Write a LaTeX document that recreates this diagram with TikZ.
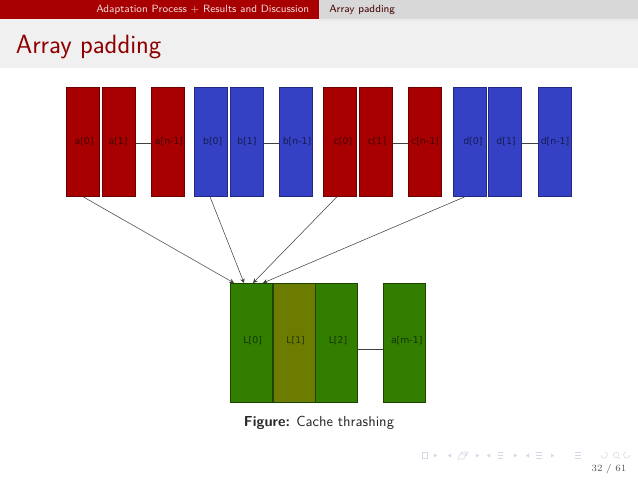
\documentclass[tikz,border=0pt]{standalone}
\usepackage{fontspec}
\newfontfamily\cellfont{DejaVu Sans}
\usetikzlibrary{arrows.meta}
\definecolor{hdred}{HTML}{A80000}
\definecolor{hdgray}{HTML}{D8D8D8}
\definecolor{titlebg}{HTML}{F0F0F0}
\definecolor{redcell}{HTML}{A80000}
\definecolor{bluecell}{HTML}{3541C4}
\definecolor{greencell}{HTML}{327E00}
\definecolor{olivecell}{HTML}{6C7C00}
\definecolor{navgray}{HTML}{D6D6E6}
\newcommand\lbl[3]{\raisebox{#2pt}{\hspace*{#1pt}#3}}
\tikzset{
  x=0.75pt,y=-0.75pt,
  cell/.style={draw=black!70,line width=0.5pt,minimum width=25pt,minimum height=81.6pt,inner sep=0pt,
     font=\cellfont\fontsize{7}{8}\selectfont},
  redbox/.style={cell,draw=black!35!redcell,fill=redcell,text=black!60!redcell},
  bluebox/.style={cell,draw=black!35!bluecell,fill=bluecell,text=black!60!bluecell},
  greenbox/.style={cell,draw=black!45!greencell,minimum width=31.5pt,minimum height=89.5pt,fill=greencell,text=black!60!greencell},
  olivebox/.style={greenbox,fill=olivecell,text=black!60!olivecell},
  link/.style={draw=black!75,line width=0.45pt},
  feed/.style={draw=black!75,line width=0.4pt,-{Stealth[length=3.4pt,width=3.4pt]}},
  nav/.style={draw=navgray,line width=0.4pt},
  navtip/.style={fill=navgray},
}
\begin{document}
\begin{tikzpicture}
\useasboundingbox (0,0) rectangle (638,479);
\fill[white] (0,0) rectangle (638,479);
\fill[titlebg] (0,19) rectangle (638,68);
\fill[hdred] (0,0) rectangle (319,19);
\fill[hdgray] (319,0) rectangle (638,19);
\fill[black!8] (319,19) rectangle (638,21);
\node[font=\sffamily\fontsize{7.9}{10}\selectfont,text=white!85!hdred,anchor=east,inner sep=0pt] (sec) at (309.5,9.5) {Adaptation Process + Results and Discussion};
\node[font=\sffamily\fontsize{7.9}{10}\selectfont,text=black!60!hdred,anchor=west,inner sep=0pt] (sub) at (329,9.5) {Array padding};
\node[font=\sffamily\fontsize{19.8}{22}\selectfont,text=hdred!85!black,anchor=west,inner sep=0pt] (title) at (15.5,47) {Array padding};
% array cells
\node[redbox] (a0) at (83,142) {\lbl{1.5}{0.75}{a[0]}};
\node[redbox] (a1) at (119,142) {\lbl{-1.5}{0.75}{a[1]}};
\node[redbox] (an) at (168,142) {\lbl{1.5}{0.75}{a[n-1]}};
\node[bluebox] (b0) at (211,142) {\lbl{2.5}{2.25}{b[0]}};
\node[bluebox] (b1) at (247,142) {\lbl{0}{2.25}{b[1]}};
\node[bluebox] (bn) at (296,142) {\lbl{1.5}{1.5}{b[n-1]}};
\node[redbox] (c0) at (340,142) {\lbl{4.5}{0.75}{c[0]}};
\node[redbox] (c1) at (376,142) {\lbl{1.5}{0.75}{c[1]}};
\node[redbox] (cn) at (425,142) {\lbl{0}{0.75}{c[n-1]}};
\node[bluebox] (d0) at (469.5,142) {\lbl{5}{0.75}{d[0]}};
\node[bluebox] (d1) at (505,142) {\lbl{1.5}{0.75}{d[1]}};
\node[bluebox] (dn) at (555,142) {\lbl{0}{0.75}{d[n-1]}};
% cache cells
\node[greenbox] (l0) at (251.5,343) {\lbl{1.8}{5.25}{L[0]}};
\node[olivebox] (l1) at (294,343) {\lbl{2.5}{5.25}{L[1]}};
\node[greenbox] (l2) at (336.5,343) {\lbl{2.2}{5.25}{L[2]}};
\node[greenbox] (lm) at (404.5,343) {\lbl{3.3}{4.5}{a[m-1]}};
% links
\draw[link] (a1.east |- 0,143.5) -- (an.west |- 0,143.5);
\draw[link] (b1.east |- 0,143.5) -- (bn.west |- 0,143.5);
\draw[link] (c1.east |- 0,143.5) -- (cn.west |- 0,143.5);
\draw[link] (d1.east |- 0,143.5) -- (dn.west |- 0,143.5);
\draw[link] ([yshift=-4.9pt]l2.east) -- ([yshift=-4.9pt]lm.west);
% feeds
\draw[feed] (a0.south) -- ([xshift=-13.1pt]l0.north);
\draw[feed] ([xshift=-0.75pt]b0.south) -- ([xshift=-5.6pt]l0.north);
\draw[feed] ([xshift=-2.25pt]c0.south) -- ([xshift=1.1pt]l0.north);
\draw[feed] ([xshift=-3.4pt]d0.south) -- ([xshift=8.6pt]l0.north);
\node[font=\sffamily\fontsize{10.9}{12}\selectfont,text=black!85,inner sep=0pt] (cap) at (319,423) {\textbf{Figure:} Cache thrashing};
% navigation symbols
\draw[nav] (422,452.5) rectangle (427.5,458);
\fill[navtip] (434,453.5) -- (437,455.5) -- (434,457.5) -- cycle;
\fill[navtip] (451,453.5) -- (448,455.5) -- (451,457.5) -- cycle;
\draw[nav] (458,459) -- (460,454) -- (466,454) -- (464,459) -- cycle (461,453.5) -- (462,452) -- (468,452) -- (466,456);
\fill[navtip] (476,453.5) -- (479,455.5) -- (476,457.5) -- cycle;
\fill[navtip] (490,453.5) -- (487,455.5) -- (490,457.5) -- cycle;
\draw[nav] (497.5,452) -- (503,452) (497.5,455) -- (503,455) (497.5,458) -- (503,458);
\fill[navtip] (514,453.5) -- (517,455.5) -- (514,457.5) -- cycle;
\fill[navtip] (529,453.5) -- (526,455.5) -- (529,457.5) -- cycle;
\draw[nav] (536,452) -- (541.5,452) (536,455) -- (541.5,455) (536,458) -- (541.5,458);
\fill[navtip] (551,453.5) -- (554,455.5) -- (551,457.5) -- cycle;
\draw[nav] (575,452) -- (580.5,452) (575,455) -- (580.5,455) (575,458) -- (580.5,458);
\draw[nav] (601,455) arc (180:-70:3.2);
\draw[nav] (616,455) circle (2.8) (618,457) -- (620,459);
\draw[nav] (630,455) arc (0:250:3.2);
\node[font=\rmfamily\fontsize{7.2}{10}\selectfont,text=navgray!40!black,anchor=east,inner sep=0pt] (page) at (626.5,469) {32 / 61};
\end{tikzpicture}
\end{document}
